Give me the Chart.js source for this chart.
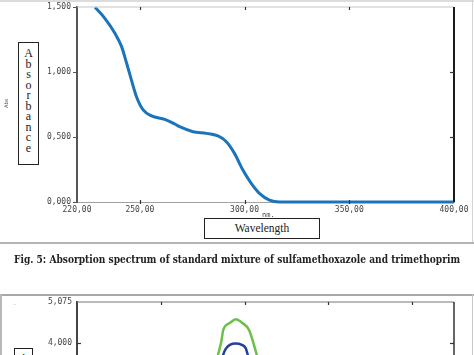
<!DOCTYPE html>
<html><head><meta charset="utf-8">
<script src="https://cdn.jsdelivr.net/npm/chart.js@4.4.1/dist/chart.umd.min.js"></script>
<style>
html,body{margin:0;padding:0;background:#fff;}
#page{position:relative;width:474px;height:355px;overflow:hidden;background:#fff;}
.a{position:absolute;}
.box{position:absolute;border:1px solid #222;box-sizing:border-box;font-family:"Liberation Serif",serif;color:#222;background:#fff;}
</style></head><body>
<div id="page">
  <!-- figure 1 frame -->
  <div class="a" style="left:0;top:0;width:474px;height:2px;background:#dcdcdc"></div>
  <div class="a" style="left:472px;top:0;width:1px;height:244px;background:#d4d4d4"></div>
  <div class="a" style="left:0;top:0;width:474px;height:244px"><canvas id="c1" width="474" height="244"></canvas></div>
  <div class="a" style="left:0;top:242px;width:474px;height:2px;background:#b4b4b4"></div>
  <div class="a" style="left:3px;font:5px 'DejaVu Sans';color:#444;transform:rotate(-90deg);transform-origin:left top;top:108px">Abs</div>
  <div class="box" style="left:18px;top:42px;width:21px;height:123px;padding-top:5px;text-align:center;font-size:12px;line-height:10.5px">A<br>b<br>s<br>o<br>r<br>b<br>a<br>n<br>c<br>e</div>
  <div class="a" style="left:262px;top:211px;font:7px 'DejaVu Sans Mono';color:#444">nm.</div>
  <div class="box" style="left:204px;top:218px;width:116px;height:21px;text-align:center;font-size:11.5px;line-height:19px">Wavelength</div>
  <div id="cap" class="a" style="left:14px;top:253px;white-space:nowrap;font:bold 10.6px 'DejaVu Serif',serif;line-height:12px;color:#222;transform-origin:left top">Fig. 5: Absorption spectrum of standard mixture of sulfamethoxazole and trimethoprim</div>
  <!-- figure 2 frame -->
  <div class="a" style="left:0;top:294px;width:474px;height:2px;background:#a8a8a8"></div>
  <div class="a" style="left:0;top:294px;width:2px;height:70px;background:#b8b8b8"></div>
  <div class="a" style="left:472px;top:294px;width:1px;height:70px;background:#c8c8c8"></div>
  <div class="a" style="left:0;top:280px;width:474px;height:254px"><canvas id="c2" width="474" height="254"></canvas></div>
  <div class="a" style="left:14px;top:299px;font:6px 'DejaVu Sans';color:#777">.</div>
  <div class="box" style="left:14px;top:348px;width:19px;height:40px;text-align:center;font-size:12px;line-height:14px;padding-top:2px">A</div>
</div>
<script>
// ---- Figure 1 data: absorption spectrum ----
const wavelength = [228.6,233.3,238.1,241.3,243.7,246.0,248.4,251.6,255.6,261.9,266.7,269.0,275.4,281.8,287.3,291.3,295.2,299.2,303.2,307.1,311.9,316.7,330,350,400];
const absorbance = [1.498,1.413,1.298,1.195,1.067,0.938,0.810,0.708,0.662,0.636,0.600,0.579,0.541,0.528,0.508,0.464,0.374,0.246,0.144,0.067,0.015,0.000,0.000,0.000,0.000];
const xTicks1 = [220,250,300,350,400];
const yTicks1 = [0,0.5,1.0,1.5];

// ---- Figure 2 data (partially visible) ----
const greenX = [283.25,283.65,284.5,284.9,286.5,287.9,289.5,291.1,292.96,293.56];
const greenY = [3.45,3.665,4.06,4.33,4.52,4.62,4.52,4.33,3.665,3.45];
const blueX = [284.5,284.85,285.6,286.6,287.9,289.2,290.3,290.8,291.4];
const blueY = [3.45,3.665,3.85,3.95,3.975,3.95,3.85,3.665,3.45];
const xTicks2 = [250,270,290,310,330];
const yTicks2 = [4.0,5.075];

const frameTicks = {
  id:'frameTicks',
  afterDatasetsDraw(chart, args, o){
    const {ctx, chartArea:a, scales:{x,y}} = chart;
    ctx.save();
    ctx.lineCap='butt';
    ctx.strokeStyle=o.topColor; ctx.lineWidth=o.topWidth;
    ctx.beginPath(); ctx.moveTo(a.left,a.top); ctx.lineTo(a.right,a.top); ctx.stroke();
    ctx.strokeStyle=o.rightColor; ctx.lineWidth=o.rightWidth;
    ctx.beginPath(); ctx.moveTo(a.right,a.top); ctx.lineTo(a.right,a.bottom); ctx.stroke();
    ctx.strokeStyle=o.tickColor; ctx.lineWidth=1.2;
    x.ticks.forEach(t=>{
      if(t.value<=x.min||t.value>=x.max) return;
      const px=Math.round(x.getPixelForValue(t.value))+0.5;
      ctx.beginPath(); ctx.moveTo(px,a.top); ctx.lineTo(px,a.top+3); ctx.stroke();
      if(o.bottom){ctx.beginPath(); ctx.moveTo(px,a.bottom-2); ctx.lineTo(px,a.bottom+2); ctx.stroke();}
    });
    y.ticks.forEach(t=>{
      if(t.value<=y.min||t.value>=y.max) return;
      const py=Math.round(y.getPixelForValue(t.value))+0.5;
      ctx.beginPath(); ctx.moveTo(a.right-4,py); ctx.lineTo(a.right,py); ctx.stroke();
      if(o.leftIn){ctx.beginPath(); ctx.moveTo(a.left,py); ctx.lineTo(a.left+4,py); ctx.stroke();}
    });
    ctx.restore();
  }
};

const tickFont = {family:'DejaVu Sans Mono', size:8};
const fmt3 = v => Number(v).toFixed(3).replace('.',',');
const fmt2 = v => Number(v).toFixed(2).replace('.',',');

new Chart(document.getElementById('c1'), {
  type:'line',
  data:{datasets:[{
    data: wavelength.map((w,i)=>({x:w,y:absorbance[i]})),
    borderColor:'#1b74ba', borderWidth:3, pointRadius:0, fill:false,
    cubicInterpolationMode:'monotone', clip:{left:0,top:0,right:2,bottom:4}
  }]},
  options:{
    responsive:false, animation:false, devicePixelRatio:1,
    layout:{padding:{top:7,right:20,left:0,bottom:0}},
    plugins:{legend:{display:false}, tooltip:{enabled:false},
      frameTicks:{topColor:'#c4c4c4',topWidth:1,rightColor:'#1a1a1a',rightWidth:2,tickColor:'#333',bottom:true,leftIn:false}},
    scales:{
      x:{type:'linear', min:220, max:400,
        afterBuildTicks:s=>{s.ticks=xTicks1.map(v=>({value:v}));},
        afterFit:s=>{s.height=42;},
        grid:{display:true,drawOnChartArea:false,drawTicks:false},
        border:{color:'#a0a0a0',width:1},
        ticks:{padding:3,font:tickFont,color:'#444',maxRotation:0,autoSkip:false,callback:fmt2}},
      y:{type:'linear', min:0, max:1.5,
        afterBuildTicks:s=>{s.ticks=yTicks1.map(v=>({value:v}));},
        afterFit:s=>{s.width=77;},
        grid:{drawOnChartArea:false,tickLength:4,color:'#555'},
        border:{color:'#555',width:2},
        ticks:{padding:2,font:tickFont,color:'#444',callback:fmt3}}
    }
  },
  plugins:[frameTicks]
});

new Chart(document.getElementById('c2'), {
  type:'line',
  data:{datasets:[
    {data: greenX.map((w,i)=>({x:w,y:greenY[i]})), borderColor:'#6cbf47', borderWidth:2.5, pointRadius:0, fill:false, cubicInterpolationMode:'monotone'},
    {data: blueX.map((w,i)=>({x:w,y:blueY[i]})), borderColor:'#22409c', borderWidth:2.5, pointRadius:0, fill:false, cubicInterpolationMode:'monotone'}
  ]},
  options:{
    responsive:false, animation:false, devicePixelRatio:1,
    layout:{padding:{top:22,right:20,left:0,bottom:0}},
    plugins:{legend:{display:false}, tooltip:{enabled:false},
      frameTicks:{topColor:'#777',topWidth:1.2,rightColor:'#333',rightWidth:1.5,tickColor:'#333',bottom:false,leftIn:true}},
    scales:{
      x:{type:'linear', min:250, max:340,
        afterBuildTicks:s=>{s.ticks=xTicks2.map(v=>({value:v}));},
        afterFit:s=>{s.height=40;},
        grid:{display:true,drawOnChartArea:false,drawTicks:false},
        border:{color:'#999',width:1},
        ticks:{padding:3,font:tickFont,color:'#444',maxRotation:0,autoSkip:false,callback:fmt2}},
      y:{type:'linear', min:0, max:5.075,
        afterBuildTicks:s=>{s.ticks=yTicks2.map(v=>({value:v}));},
        afterFit:s=>{s.width=77;},
        grid:{display:true,drawOnChartArea:false,drawTicks:false},
        border:{color:'#444',width:2},
        ticks:{padding:5,font:tickFont,color:'#444',callback:fmt3}}
    }
  },
  plugins:[frameTicks]
});

// fit caption to the reference width (horizontal scale only)
(function(){
  const cap=document.getElementById('cap');
  const c=document.createElement('canvas').getContext('2d');
  c.font="bold 10.6px 'DejaVu Serif'";
  const w=c.measureText(cap.textContent).width;
  cap.style.transform='scaleX('+(446/w)+')';
})();
</script>
</body></html>
